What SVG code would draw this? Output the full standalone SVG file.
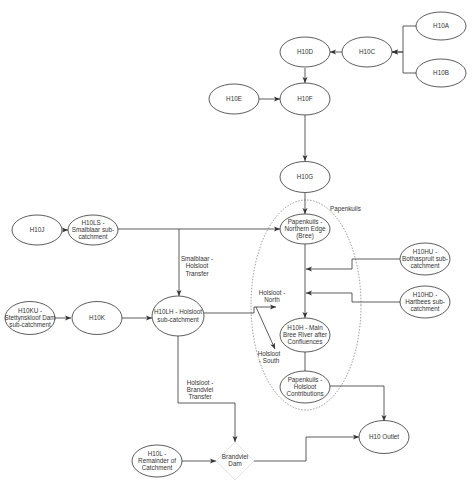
<svg xmlns="http://www.w3.org/2000/svg" width="474" height="482" viewBox="0 0 474 482">
<style>
  .n ellipse, .n polygon { fill: #fff; stroke: #333; stroke-width: 0.8; }
  text { font-family: "Liberation Sans", Arial, sans-serif; font-size: 6.3px; fill: #333; text-anchor: middle; }
  .e path { fill: none; stroke: #333; stroke-width: 0.8; }
  .grp { fill: none; stroke: #555; stroke-width: 0.6; stroke-dasharray: 1.5 1.5; }
</style>
<defs>
  <marker id="a" viewBox="0 0 6 6" refX="6" refY="3" markerWidth="6" markerHeight="6" markerUnits="userSpaceOnUse" orient="auto">
    <path d="M0,0.5 L6,3 L0,5.5 L1.5,3 Z" fill="#333"/>
  </marker>
</defs>
<rect width="474" height="482" fill="#fff"/>

<g id="papenkuils-group">
  <ellipse class="grp" cx="306" cy="305" rx="55" ry="105"/>
  <text x="330" y="211" style="text-anchor:start">Papenkuils</text>
</g>

<g class="e" id="connectors">
  <path d="M416,26 H403 V52 H392" marker-end="url(#a)"/>
  <path d="M416,73 H403 V52 H392" marker-end="url(#a)"/>
  <path d="M342,52 H330" marker-end="url(#a)"/>
  <path d="M305,68 V83" marker-end="url(#a)"/>
  <path d="M259,99 H280" marker-end="url(#a)"/>
  <path d="M305,115 V161" marker-end="url(#a)"/>
  <path d="M305,193 V214" marker-end="url(#a)"/>
  <path d="M62,230 H68" marker-end="url(#a)"/>
  <path d="M118,229 H280" marker-end="url(#a)"/>
  <path d="M179,229 V296" marker-end="url(#a)"/>
  <path d="M55,318 H71" marker-end="url(#a)"/>
  <path d="M122,318 H152" marker-end="url(#a)"/>
  <path d="M204,313 H254 V307 H276" marker-end="url(#a)"/>
  <path d="M256,307 L275,349" marker-end="url(#a)"/>
  <path d="M305,244 V318" marker-end="url(#a)"/>
  <path d="M400,259 H352 V269 H306" marker-end="url(#a)"/>
  <path d="M400,302 H352 V293 H306" marker-end="url(#a)"/>
  <path d="M305,352 V371"/>
  <path d="M330,386 H384 V421" marker-end="url(#a)"/>
  <path d="M178,336 V403 H235 V442" marker-end="url(#a)"/>
  <path d="M182,461 H216" marker-end="url(#a)"/>
  <path d="M254,461 H306 V437 H359" marker-end="url(#a)"/>
  <text x="197" y="261">Smalblaar -</text>
  <text x="197" y="268.3">Holsloot</text>
  <text x="197" y="275.6">Transfer</text>
  <text x="272" y="294.5">Holsloot -</text>
  <text x="272" y="301.8">North</text>
  <text x="269" y="356">Holsloot</text>
  <text x="269" y="363.3">- South</text>
  <text x="200" y="384.5">Holsloot -</text>
  <text x="200" y="391.8">Brandvlei</text>
  <text x="200" y="399.1">Transfer</text>
</g>

<g class="n" id="H10A"><ellipse cx="441" cy="26" rx="25" ry="14"/><text x="441" y="28">H10A</text></g>
<g class="n" id="H10B"><ellipse cx="441" cy="73" rx="25" ry="14"/><text x="441" y="75">H10B</text></g>
<g class="n" id="H10C"><ellipse cx="367" cy="52" rx="25" ry="15"/><text x="367" y="54">H10C</text></g>
<g class="n" id="H10D"><ellipse cx="305" cy="52" rx="25" ry="15"/><text x="305" y="54">H10D</text></g>
<g class="n" id="H10E"><ellipse cx="234" cy="99" rx="25" ry="15"/><text x="234" y="101">H10E</text></g>
<g class="n" id="H10F"><ellipse cx="305" cy="99" rx="25" ry="16"/><text x="305" y="101">H10F</text></g>
<g class="n" id="H10G"><ellipse cx="305" cy="177" rx="25" ry="15.5"/><text x="305" y="179">H10G</text></g>
<g class="n" id="H10J"><ellipse cx="37" cy="230" rx="25" ry="15"/><text x="37" y="232">H10J</text></g>
<g class="n" id="H10LS"><ellipse cx="93" cy="230" rx="25" ry="15"/>
  <text x="93" y="224.7">H10LS -</text><text x="93" y="232">Smalblaar sub-</text><text x="93" y="239.3">catchment</text></g>
<g class="n" id="PNE"><ellipse cx="305" cy="229" rx="25" ry="15"/>
  <text x="305" y="223.7">Papenkuils -</text><text x="305" y="231">Northern Edge</text><text x="305" y="238.3">(Bree)</text></g>
<g class="n" id="H10HU"><ellipse cx="425" cy="259" rx="25" ry="16"/>
  <text x="425" y="253.7">H10HU -</text><text x="425" y="261">Bothaspruit sub-</text><text x="425" y="268.3">catchment</text></g>
<g class="n" id="H10HD"><ellipse cx="425" cy="302" rx="25" ry="16"/>
  <text x="425" y="296.7">H10HD -</text><text x="425" y="304">Hartbees sub-</text><text x="425" y="311.3">catchment</text></g>
<g class="n" id="H10KU"><ellipse cx="30" cy="318" rx="25" ry="16.5"/>
  <text x="30" y="312.7">H10KU -</text><text x="30" y="320">Stettynskloof Dam</text><text x="30" y="327.3">sub-catchment</text></g>
<g class="n" id="H10K"><ellipse cx="97" cy="318" rx="25" ry="16.5"/><text x="97" y="320">H10K</text></g>
<g class="n" id="H10LH"><ellipse cx="178" cy="316" rx="26" ry="20"/>
  <text x="178" y="314.3">H10LH - Holsloot</text><text x="178" y="321.6">sub-catchment</text></g>
<g class="n" id="H10H"><ellipse cx="305" cy="335" rx="25" ry="17"/>
  <text x="305" y="329.7">H10H - Main</text><text x="305" y="337">Bree River after</text><text x="305" y="344.3">Confluences</text></g>
<g class="n" id="PHC"><ellipse cx="305" cy="387" rx="25" ry="16"/>
  <text x="305" y="381.7">Papenkuils -</text><text x="305" y="389">Holsloot</text><text x="305" y="396.3">Contributions</text></g>
<g class="n" id="H10Outlet"><ellipse cx="384" cy="437" rx="25" ry="16.5"/><text x="384" y="439">H10 Outlet</text></g>
<g class="n" id="H10L"><ellipse cx="157" cy="461" rx="25" ry="16"/>
  <text x="157" y="455.7">H10L -</text><text x="157" y="463">Remainder of</text><text x="157" y="470.3">Catchment</text></g>
<g class="n" id="Brandvlei"><polygon points="235,442 254,461 235,480 216,461" style="stroke:#ddd"/>
  <text x="235" y="459">Brandvlei</text><text x="235" y="466.3">Dam</text></g>
</svg>
